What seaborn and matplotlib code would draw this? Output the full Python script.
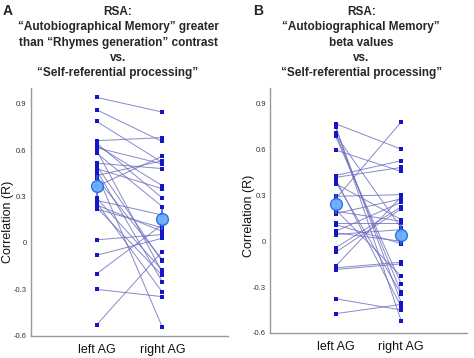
import numpy as np
import pandas as pd
import matplotlib
matplotlib.use("Agg")
import matplotlib.pyplot as plt
import seaborn as sns

# ---- data ----
conditions = ["left AG", "right AG"]
y_ticks = [-0.6, -0.3, 0, 0.3, 0.6, 0.9]
y_tick_labels = ["-0.6", "-0.3", "0", "0.3", "0.6", "0.9"]

a_left = [0.94, 0.86, 0.785, 0.66, 0.645, 0.63, 0.615, 0.60, 0.58, 0.515, 0.50, 0.48,
          0.47, 0.45, 0.435, 0.42, 0.365, 0.29, 0.275, 0.26, 0.245, 0.23, 0.22, 0.02,
          -0.08, -0.2, -0.3, -0.53]
a_right = [0.845, 0.655, 0.52, 0.68, 0.29, 0.37, 0.51, -0.19, 0.235, 0.48, -0.12, 0.35,
           -0.25, -0.543, 0.53, -0.108, 0.56, -0.176, 0.18, -0.317, 0.075, -0.21, 0.097, 0.054,
           0.03, 0.118, -0.347, -0.056]

b_left = [0.769, 0.756, 0.745, 0.708, 0.697, 0.686, 0.597, 0.43, 0.418, 0.407, 0.392, 0.377,
          0.294, 0.277, 0.207, 0.196, 0.181, 0.12, 0.109, 0.065, 0.055, 0.044, -0.043, -0.072,
          -0.163, -0.174, -0.185, -0.376, -0.474]
b_right = [0.603, -0.52, -0.402, -0.333, 0.087, -0.278, 0.457, 0.527, 0.483, -0.428, -0.344, 0.142,
           0.305, 0.78, -0.228, 0.131, 0.277, 0.12, -0.015, 0.255, 0.0, 0.076, 0.225, 0.212,
           0.29, -0.137, -0.148, -0.45, -0.413]

title_a = "RSA:\n\u201cAutobiographical Memory\u201d greater\nthan \u201cRhymes generation\u201d contrast\nvs.\n\u201cSelf-referential processing\u201d"
title_b = "RSA:\n\u201cAutobiographical Memory\u201d\nbeta values\nvs.\n\u201cSelf-referential processing\u201d"

sns.set_style("white")
plt.rcParams["font.family"] = ["Liberation Sans", "DejaVu Sans"]

LINE_C = "#6b6bbd"
PT_C = "#1515c8"
MEAN_FACE = "#6aaefc"
MEAN_EDGE = "#2a6ae0"


def long_df(left, right):
    n = len(left)
    return pd.DataFrame({
        "subj": list(range(n)) * 2,
        "pos": [1] * n + [2] * n,
        "val": list(left) + list(right),
    })


def panel(ax, left, right, label_xy):
    df = long_df(left, right)
    sns.lineplot(data=df, x="pos", y="val", units="subj", estimator=None,
                 color=LINE_C, lw=0.7, alpha=0.8, ax=ax, legend=False)
    sns.scatterplot(data=df, x="pos", y="val", color=PT_C, s=6, marker="s",
                    linewidth=0, ax=ax, legend=False, zorder=3)
    for pos, vals in zip([1, 2], [left, right]):
        v = np.asarray(vals)
        m = v.mean()
        se = v.std(ddof=1) / np.sqrt(len(v))
        ax.errorbar([pos], [m], yerr=[se], fmt="o", ms=8.5, mfc=MEAN_FACE, mec=MEAN_EDGE,
                    mew=1.0, ecolor=MEAN_EDGE, elinewidth=1.2, capsize=0, zorder=4, alpha=0.95)
    ax.set_xlim(0, 3)
    ax.set_ylim(-0.6, 1.0)
    ax.set_xticks([1, 2])
    ax.set_xticklabels(conditions, fontsize=9, color="#111111")
    ax.set_yticks(y_ticks)
    ax.set_yticklabels(y_tick_labels, fontsize=5.5, color="#333333",
                       family=["Liberation Sans Narrow", "Liberation Sans"])
    ax.tick_params(axis="y", length=2, width=0.6, color="#aaaaaa", pad=1)
    ax.tick_params(axis="x", length=2, width=0.6, color="#cccccc", pad=4)
    ax.set_xlabel("")
    ax.set_ylabel("Correlation (R)", fontsize=9, color="#111111", va="center", ha="center")
    ax.yaxis.set_label_coords(*label_xy)
    for s in ["top", "right"]:
        ax.spines[s].set_visible(False)
    for s in ["left", "bottom"]:
        ax.spines[s].set_color("#9a9a9a")
        ax.spines[s].set_linewidth(1.0)


fig = plt.figure(figsize=(4.74, 3.58), dpi=100)
ax_a = fig.add_axes([0.065, 0.062, 0.416, 0.692])
ax_b = fig.add_axes([0.5696, 0.070, 0.415, 0.683])
panel(ax_a, a_left, a_right, (-0.118, 0.46))
panel(ax_b, b_left, b_right, (-0.107, 0.48))

fig.text(0.249, 0.983, title_a, ha="center", va="top", fontsize=8.5, fontweight="bold",
         linespacing=1.37)
fig.text(0.762, 0.983, title_b, ha="center", va="top", fontsize=8.5, fontweight="bold",
         linespacing=1.37)
fig.text(0.006, 0.99, "A", ha="left", va="top", fontsize=10, fontweight="bold")
fig.text(0.535, 0.99, "B", ha="left", va="top", fontsize=10, fontweight="bold")

fig.savefig("out.png", dpi=100, facecolor="white")
